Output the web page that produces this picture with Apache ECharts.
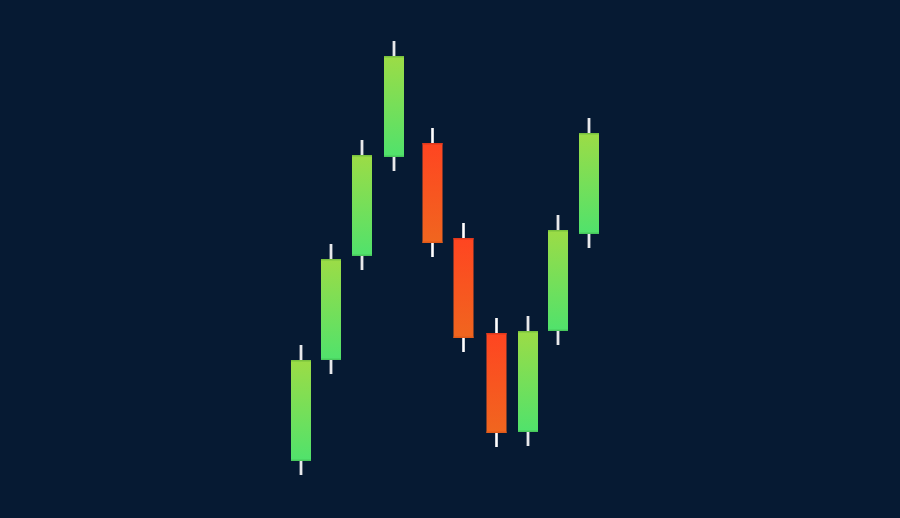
<!DOCTYPE html>
<html>
<head>
<meta charset="utf-8">
<script src="https://cdn.jsdelivr.net/npm/echarts@6/dist/echarts.min.js"></script>
<style>html,body{margin:0;padding:0;background:#061a33;}#c{width:900px;height:518px;}</style>
</head>
<body>
<div id="c"></div>
<script>
// x positions of each candle (time axis units)
const positions = [301, 331, 362, 394, 432.5, 463.5, 496.5, 528, 558, 589];
const opens  = [5.7, 15.8, 26.2, 36.1, 37.5, 28.0, 18.5, 8.6, 18.7, 28.4];
const closes = [15.8, 25.9, 36.3, 46.2, 27.5, 18.0, 8.5, 18.7, 28.8, 38.5];
const lows   = [4.3, 14.4, 24.8, 34.7, 26.1, 16.6, 7.1, 7.2, 17.3, 27.0];
const highs  = [17.3, 27.4, 37.8, 47.7, 39.0, 29.5, 20.0, 20.2, 30.3, 40.0];

const data = positions.map((x, i) => [x, opens[i], closes[i], lows[i], highs[i]]);

const chart = echarts.init(document.getElementById('c'));
const greenFill = new echarts.graphic.LinearGradient(0, 0, 0, 1, [
  {offset: 0, color: '#9cdc46'}, {offset: 1, color: '#50e26c'}]);
const redFill = new echarts.graphic.LinearGradient(0, 0, 0, 1, [
  {offset: 0, color: '#ff4521'}, {offset: 1, color: '#f0661f'}]);
const wickFill = new echarts.graphic.LinearGradient(0, 0, 1, 0, [
  {offset: 0, color: '#b8bcc4'}, {offset: 0.5, color: '#ffffff'}, {offset: 1, color: '#b8bcc4'}]);

chart.setOption({
  backgroundColor: '#061a33',
  animation: false,
  grid: {left: 0, right: 0, top: 0, bottom: 0},
  xAxis: {type: 'value', min: 0, max: 900, show: false},
  yAxis: {type: 'value', min: 0, max: 51.8, show: false},
  series: [{
    type: 'custom',
    data: data,
    encode: {x: 0, y: [1, 2, 3, 4]},
    renderItem: function (params, api) {
      const x = api.value(0);
      const o = api.value(1), c = api.value(2), l = api.value(3), h = api.value(4);
      const pO = api.coord([x, o]);
      const pC = api.coord([x, c]);
      const pL = api.coord([x, l]);
      const pH = api.coord([x, h]);
      const up = c >= o;
      const w = 20;
      const top = Math.min(pO[1], pC[1]);
      const bot = Math.max(pO[1], pC[1]);
      return {
        type: 'group',
        children: [
          {type: 'rect', shape: {x: pH[0] - 1.5, y: pH[1], width: 3, height: pL[1] - pH[1]},
           style: {fill: wickFill}},
          {type: 'rect', shape: {x: pO[0] - w / 2, y: top, width: w, height: bot - top},
           style: {fill: up ? greenFill : redFill}},
          {type: 'rect', shape: {x: pO[0] - w / 2, y: top, width: w, height: 1.5},
           style: {fill: up ? '#79c23e' : '#e0381c'}},
          {type: 'rect', shape: {x: pO[0] - w / 2, y: bot - 1.5, width: w, height: 1.5},
           style: {fill: up ? '#48c85c' : '#e05a1a'}}
        ]
      };
    }
  }]
});
</script>
</body>
</html>
